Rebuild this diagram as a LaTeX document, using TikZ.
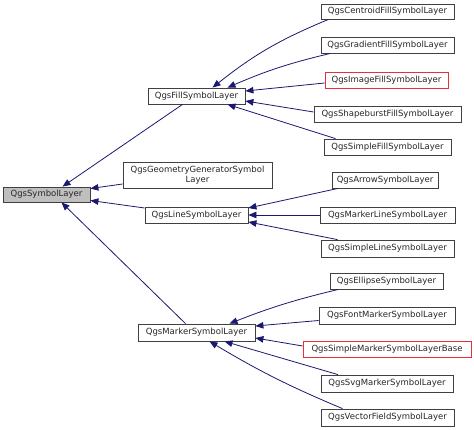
\documentclass[tikz,border=0pt]{standalone}
\usepackage{fontspec}
\setmainfont{DejaVu Sans}
\usetikzlibrary{arrows.meta}
\definecolor{edgec}{HTML}{191970}
\definecolor{boxc}{HTML}{404040}
\definecolor{redc}{HTML}{E8303A}
\begin{document}
\begin{tikzpicture}[x=1pt,y=1pt,
  box/.style={draw=boxc, fill=white, line width=0.8pt, inner sep=0pt, minimum height=16pt,
    font=\fontsize{8.5}{10}\selectfont, text=black!85, align=center},
  redbox/.style={box, draw=redc},
  graybox/.style={box, fill=gray!50},
  edge/.style={draw=edgec, line width=0.8pt, -{Triangle[length=8pt,width=6.5pt]}}]
\useasboundingbox (0,0) rectangle (474,-429);
% nodes
\node[graybox, minimum width=87pt, minimum height=15pt] (sym) at (46.5,-194.5) {QgsSymbolLayer};
\node[box, minimum width=97pt] (fill) at (196.5,-96) {QgsFillSymbolLayer};
\node[box, minimum width=149pt, minimum height=26pt] (geom) at (197.5,-175) {QgsGeometryGeneratorSymbol\\Layer};
\node[box, minimum width=103pt] (line) at (196.5,-215) {QgsLineSymbolLayer};
\node[box, minimum width=117pt, minimum height=17pt] (marker) at (196.5,-332.5) {QgsMarkerSymbolLayer};
\node[box, minimum width=133pt, minimum height=15pt] (centroid) at (387.5,-11.5) {QgsCentroidFillSymbolLayer};
\node[box, minimum width=133pt] (gradient) at (387.5,-45) {QgsGradientFillSymbolLayer};
\node[redbox, minimum width=123pt] (image) at (386.5,-80) {QgsImageFillSymbolLayer};
\node[box, minimum width=147pt] (shape) at (387.5,-114) {QgsShapeburstFillSymbolLayer};
\node[box, minimum width=127pt] (sfill) at (387.5,-147) {QgsSimpleFillSymbolLayer};
\node[box, minimum width=106pt] (arrow) at (385,-180) {QgsArrowSymbolLayer};
\node[box, minimum width=135pt] (mline) at (387.5,-215) {QgsMarkerLineSymbolLayer};
\node[box, minimum width=133pt, minimum height=17pt] (sline) at (387.5,-248.5) {QgsSimpleLineSymbolLayer};
\node[box, minimum width=113pt] (ellipse) at (386.5,-281) {QgsEllipseSymbolLayer};
\node[box, minimum width=136pt, minimum height=17pt] (font) at (387,-315.5) {QgsFontMarkerSymbolLayer};
\node[redbox, minimum width=168pt] (smbase) at (387,-349) {QgsSimpleMarkerSymbolLayerBase};
\node[box, minimum width=132pt, minimum height=17pt] (svg) at (387,-383.5) {QgsSvgMarkerSymbolLayer};
\node[box, minimum width=133pt, minimum height=17pt] (vector) at (387.5,-417.5) {QgsVectorFieldSymbolLayer};
% edges to QgsSymbolLayer
\draw[edge] ([xshift=-14pt]fill.south) -- ([xshift=16pt]sym.north);
\draw[edge] ([yshift=-9pt]geom.west) -- ([yshift=6pt]sym.east);
\draw[edge] ([yshift=7pt]line.west) -- ([yshift=-6pt]sym.east);
\draw[edge] ([xshift=-11pt]marker.north) -- ([xshift=15pt]sym.south);
% edges to QgsFillSymbolLayer
\draw[edge] ([xshift=-59pt]centroid.south) to[bend right=8] ([xshift=16pt]fill.north);
\draw[edge] ([xshift=-57pt]gradient.south) to[bend right=5] ([xshift=31pt]fill.north);
\draw[edge] ([yshift=-3pt]image.west) -- ([yshift=5pt]fill.east);
\draw[edge] ([yshift=2pt]shape.west) -- ([yshift=-5pt]fill.east);
\draw[edge] ([xshift=-52pt]sfill.north) -- ([xshift=31pt]fill.south);
% edges to QgsLineSymbolLayer
\draw[edge] ([xshift=-47pt]arrow.south) -- ([yshift=7pt]line.east);
\draw[edge] (mline.west) -- (line.east);
\draw[edge] ([xshift=-50pt]sline.north) -- ([yshift=-7pt]line.east);
% edges to QgsMarkerSymbolLayer
\draw[edge] ([xshift=-48pt]ellipse.south) to[bend right=4] ([xshift=33pt]marker.north);
\draw[edge] ([yshift=-5pt]font.west) -- ([yshift=6.5pt]marker.east);
\draw[edge] ([yshift=3pt]smbase.west) -- ([yshift=-5.5pt]marker.east);
\draw[edge] ([xshift=-49pt]svg.north) -- ([xshift=28pt]marker.south);
\draw[edge] ([xshift=-45pt]vector.north) to[bend left=4] ([xshift=13pt]marker.south);
\end{tikzpicture}
\end{document}
